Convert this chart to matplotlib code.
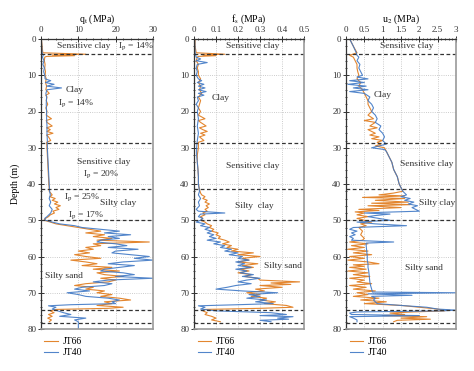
import matplotlib
matplotlib.use("Agg")
import matplotlib.pyplot as plt
from matplotlib.ticker import AutoMinorLocator

plt.rcParams['font.family'] = 'Liberation Serif'
plt.rcParams['mathtext.fontset'] = 'stix'

# ---- data: (depth m, value) ----
qt_jt66_d = [0, 1, 2, 3, 3.8, 4.2, 4.4, 4.6, 4.8, 5, 6, 7, 8, 9, 10, 11, 12, 13, 14, 15, 15.5, 16, 17, 18, 19, 20, 21, 22, 22.5, 23, 24, 24.5, 25, 25.5, 26, 26.5, 27, 28, 28.5, 30, 32, 34, 36, 38, 40, 41, 42, 43, 43.5, 44, 44.5, 45, 45.5, 46, 46.5, 47, 47.5, 48, 48.5, 49, 49.5, 50, 50.5, 51, 51.5, 52, 52.5, 53, 53.5, 54, 54.5, 55, 55.5, 56, 56.5, 57, 57.5, 58, 58.5, 59, 59.5, 60, 60.5, 61, 61.5, 62, 62.5, 63, 63.5, 64, 64.5, 65, 65.5, 66, 66.5, 67, 67.5, 68, 68.5, 69, 69.5, 70, 70.5, 71, 71.5, 72, 72.5, 73, 73.5, 74, 74.3, 74.6, 75, 75.5, 76, 76.5, 77, 77.5, 78]
qt_jt66 = [0.1, 0.2, 0.3, 0.4, 0.5, 12.0, 3, 9, 1.5, 1.0, 0.9, 1.1, 1.0, 1.2, 1.1, 1.4, 1.2, 1.5, 1.3, 2.2, 1.3, 1.6, 1.4, 1.8, 1.3, 1.6, 1.4, 2.8, 1.4, 1.6, 3.0, 1.5, 2.5, 1.6, 3.2, 1.5, 2.0, 2.6, 1.5, 1.6, 1.7, 1.8, 1.9, 2.0, 2.1, 2.2, 2.2, 3.0, 2.4, 3.8, 3.0, 4.5, 3.6, 5.2, 4.0, 4.8, 3.2, 3.6, 2.5, 2.0, 1.2, 0.8, 2.5, 4.0, 7, 10, 13, 16, 12, 17, 14, 19, 15, 29, 14, 16, 12, 14, 10, 13, 9, 12, 16, 8, 12, 15, 11, 19, 14, 21, 15, 17, 22, 16, 20, 18, 12, 9, 14, 12, 17, 15, 19, 16, 21, 24, 17, 19, 15, 22, 18, 4, 2.5, 3.5, 2, 3, 1.8, 2.8, 2.2]
qt_jt40_d = [0, 2, 3.8, 4.5, 5, 6, 7, 8, 9, 10, 11, 11.5, 12, 12.5, 13, 13.5, 14, 15, 16, 18, 20, 22, 24, 26, 28, 30, 32, 34, 36, 38, 40, 42, 43, 44, 45, 46, 47, 48, 49, 49.5, 50, 50.5, 51, 51.5, 52, 52.5, 53, 53.5, 54, 54.5, 55, 55.5, 56, 56.5, 57, 57.5, 58, 58.5, 59, 59.5, 60, 60.5, 61, 61.5, 62, 62.5, 63, 63.5, 64, 64.5, 65, 65.5, 66, 66.5, 67, 67.5, 68, 68.5, 69, 69.5, 70, 70.5, 71, 71.5, 72, 72.5, 73, 73.3, 73.6, 74, 74.5, 75, 75.5, 76, 76.5, 77, 77.5, 78, 79.8]
qt_jt40 = [0.1, 0.2, 0.3, 0.6, 0.4, 0.8, 0.5, 0.9, 0.7, 1.0, 1.1, 2.6, 1.2, 3.5, 1.5, 5.5, 1.6, 1.3, 1.5, 1.4, 1.5, 1.5, 1.6, 1.6, 1.7, 1.7, 1.8, 1.9, 2.0, 2.1, 2.2, 2.3, 2.5, 2.2, 2.6, 2.2, 3.0, 2.6, 1.6, 1.0, 1.2, 3, 5, 9, 11, 16, 21, 17, 24, 18, 21, 16, 15, 20, 23, 18, 26, 20, 19, 24, 29, 25, 30, 22, 18, 25, 21, 17, 16, 22, 25, 20, 30, 18, 14, 19, 17, 11, 9, 13, 7, 10, 12, 18, 21, 19, 20, 8, 2, 4, 3, 4.5, 6, 8, 5, 12, 9, 10, 10]

fs_jt66_d = [0, 2, 3.8, 4.2, 4.4, 4.6, 4.8, 5, 6, 7, 8, 9, 10, 11, 12, 13, 14, 15, 16, 17, 18, 19, 20, 21, 22, 22.5, 23, 24, 24.5, 25, 25.5, 26, 26.5, 27, 28, 28.5, 30, 32, 34, 36, 38, 40, 41.5, 42.5, 43, 43.5, 44, 44.5, 45, 45.5, 46, 46.5, 47, 47.5, 48, 48.5, 49, 49.5, 50, 50.5, 51, 51.5, 52, 52.5, 53, 53.5, 54, 54.5, 55, 55.5, 56, 56.5, 57, 57.5, 58, 58.5, 59, 59.5, 60, 60.5, 61, 61.5, 62, 62.5, 63, 63.5, 64, 64.5, 65, 65.5, 66, 66.5, 67, 67.3, 67.7, 68, 68.5, 69, 69.5, 70, 70.5, 71, 71.5, 72, 72.5, 73, 73.5, 74, 74.3, 74.6, 75, 75.5, 76, 76.5, 77, 77.5, 78]
fs_jt66 = [0.005, 0.005, 0.01, 0.14, 0.04, 0.10, 0.02, 0.015, 0.01, 0.02, 0.015, 0.02, 0.02, 0.03, 0.02, 0.03, 0.025, 0.035, 0.02, 0.03, 0.025, 0.02, 0.03, 0.02, 0.05, 0.02, 0.03, 0.055, 0.025, 0.04, 0.06, 0.03, 0.05, 0.025, 0.045, 0.02, 0.02, 0.015, 0.015, 0.018, 0.02, 0.02, 0.025, 0.03, 0.035, 0.05, 0.04, 0.06, 0.05, 0.07, 0.055, 0.065, 0.05, 0.06, 0.04, 0.05, 0.03, 0.04, 0.03, 0.05, 0.06, 0.08, 0.07, 0.09, 0.08, 0.11, 0.1, 0.12, 0.11, 0.14, 0.16, 0.13, 0.17, 0.15, 0.2, 0.17, 0.27, 0.2, 0.3, 0.22, 0.25, 0.2, 0.29, 0.22, 0.27, 0.21, 0.25, 0.2, 0.26, 0.23, 0.29, 0.3, 0.48, 0.35, 0.44, 0.3, 0.4, 0.28, 0.32, 0.24, 0.3, 0.26, 0.33, 0.3, 0.37, 0.32, 0.42, 0.45, 0.3, 0.05, 0.04, 0.06, 0.05, 0.08, 0.1, 0.08, 0.12]
fs_jt40_d = [0, 3.8, 5, 5.5, 6, 6.5, 7, 8, 9, 10, 11, 11.5, 12, 12.5, 13, 13.5, 14, 14.5, 15, 15.5, 16, 17, 18, 19, 20, 22, 24, 26, 28, 30, 32, 34, 36, 38, 40, 42, 43, 44, 45, 46, 47, 47.5, 48, 48.3, 49, 49.5, 50, 50.5, 51, 51.5, 52, 52.5, 53, 53.5, 54, 54.5, 55, 55.5, 56, 56.5, 57, 57.5, 58, 58.5, 59, 59.5, 60, 60.5, 61, 61.5, 62, 62.5, 63, 63.5, 64, 64.5, 65, 65.5, 66, 66.5, 67, 67.5, 68, 68.5, 69, 69.5, 70, 70.5, 71, 71.5, 72, 72.5, 73, 73.3, 73.6, 74, 74.5, 75, 75.5, 76, 76.3, 76.6, 77, 77.3, 77.6, 78]
fs_jt40 = [0.003, 0.005, 0.01, 0.03, 0.01, 0.06, 0.015, 0.01, 0.015, 0.01, 0.02, 0.035, 0.015, 0.045, 0.02, 0.05, 0.02, 0.055, 0.02, 0.045, 0.015, 0.02, 0.01, 0.02, 0.015, 0.02, 0.015, 0.02, 0.015, 0.012, 0.012, 0.015, 0.018, 0.02, 0.02, 0.025, 0.02, 0.03, 0.02, 0.025, 0.01, 0.02, 0.14, 0.03, 0.02, 0.04, 0.03, 0.01, 0.05, 0.03, 0.07, 0.05, 0.08, 0.06, 0.09, 0.07, 0.1, 0.06, 0.12, 0.09, 0.14, 0.12, 0.17, 0.14, 0.2, 0.16, 0.22, 0.2, 0.25, 0.19, 0.23, 0.2, 0.26, 0.19, 0.24, 0.21, 0.27, 0.22, 0.3, 0.24, 0.2, 0.26, 0.19, 0.15, 0.1, 0.22, 0.38, 0.25, 0.3, 0.24, 0.33, 0.28, 0.36, 0.2, 0.02, 0.05, 0.03, 0.1, 0.35, 0.42, 0.3, 0.45, 0.38, 0.43, 0.3, 0.35]

u2_jt66_d = [0, 2, 3.8, 4.5, 5, 6, 7, 8, 9, 10, 11, 12, 13, 14, 15, 16, 17, 18, 19, 20, 21, 22, 22.5, 23, 24, 24.5, 25, 26, 26.5, 27, 27.5, 28, 28.5, 29, 29.5, 30, 31, 32, 34, 36, 38, 40, 41, 42, 42.5, 43, 43.3, 43.7, 44, 44.5, 45, 45.3, 45.7, 46, 46.5, 47, 47.3, 47.7, 48, 48.5, 49, 49.5, 50, 50.5, 51, 51.5, 52, 53, 54, 55, 55.5, 56, 56.5, 57, 57.5, 58, 58.5, 59, 59.5, 60, 60.5, 61, 61.5, 62, 62.3, 62.7, 63, 63.5, 64, 64.5, 65, 65.5, 66, 66.5, 67, 67.5, 68, 68.5, 69, 69.5, 70, 70.5, 71, 71.5, 72, 72.5, 73, 73.5, 74, 74.5, 75, 75.3, 75.6, 76, 76.3, 76.6, 77, 77.3, 77.6, 78]
u2_jt66 = [0.1, 0.2, 0.3, 0.1, 0.2, 0.25, 0.3, 0.3, 0.32, 0.35, 0.3, 0.4, 0.35, 0.45, 0.5, 0.55, 0.6, 0.6, 0.65, 0.7, 0.6, 0.75, 0.5, 0.8, 0.65, 0.85, 0.6, 0.8, 0.65, 0.9, 0.7, 1.0, 0.85, 0.95, 0.8, 1.05, 1.1, 1.15, 1.25, 1.3, 1.4, 1.45, 1.5, 1.55, 1.3, 0.9, 1.6, 0.45, 1.6, 0.8, 1.7, 0.7, 1.75, 0.6, 1.5, 0.35, 0.9, 0.25, 0.5, 0.3, 0.6, 0.3, 0.5, 0.7, 0.4, 0.55, 0.35, 0.45, 0.4, 0.5, 0.45, 0.1, 0.6, 0.15, 0.5, 0.05, 0.6, 0.2, 0.7, 0.1, 0.5, 0.05, 0.6, 0.9, 0.2, 0.5, 0.1, 0.55, 0.05, 0.6, 0.2, 0.65, 0.1, 0.5, 0.3, 0.7, 0.1, 0.55, 0.2, 0.8, 0.3, 0.6, 0.2, 0.9, 0.4, 1.1, 0.5, 1.5, 2.0, 2.5, 2.7, 1.8, 1.2, 1.6, 1.0, 2.2, 1.5, 2.3, 1.4, 1.3]
u2_jt40_d = [0, 2, 3.8, 4.5, 5, 6, 7, 8, 9, 10, 10.5, 11, 11.5, 12, 12.5, 13, 13.5, 14, 14.5, 15, 16, 17, 18, 19, 20, 21, 22, 23, 24, 25, 26, 27, 28, 29, 29.5, 30, 30.5, 31, 32, 34, 36, 38, 40, 41, 42, 43, 43.5, 44, 44.5, 45, 45.5, 46, 46.5, 47, 47.5, 47.8, 48, 48.3, 48.7, 49, 49.5, 50, 50.5, 51, 51.5, 52, 52.5, 53, 53.5, 54, 54.5, 55, 55.5, 56, 56.3, 57, 58, 59, 60, 61, 62, 63, 64, 65, 66, 67, 68, 69, 69.8, 70, 70.3, 70.7, 71, 71.5, 72, 72.5, 73, 73.5, 74, 74.5, 74.8, 75, 75.3, 75.6, 76, 76.3, 76.6, 77, 77.5, 78]
u2_jt40 = [0.1, 0.2, 0.28, 0.3, 0.35, 0.3, 0.38, 0.35, 0.4, 0.45, 0.3, 0.6, 0.1, 0.5, 0.05, 0.55, 0.2, 0.6, 0.1, 0.5, 0.65, 0.6, 0.7, 0.75, 0.7, 0.8, 0.85, 0.8, 0.95, 0.9, 1.0, 1.05, 1.0, 1.1, 0.9, 0.7, 1.05, 1.1, 1.15, 1.25, 1.3, 1.4, 1.45, 1.5, 1.55, 1.65, 1.5, 1.75, 1.6, 1.85, 1.7, 1.95, 1.8, 1.9, 2.0, 1.0, 0.5, 1.2, 0.8, 0.6, 0.9, 1.2, 0.3, 0.8, 1.65, 0.2, 0.1, 0.3, 0.15, 0.25, 0.1, 0.2, 0.15, 1.3, 0.55, 0.55, 0.56, 0.57, 0.58, 0.58, 0.6, 0.6, 0.62, 0.63, 0.64, 0.65, 0.67, 0.7, 0.72, 3.0, 0.6, 1.8, 0.7, 0.8, 0.75, 0.8, 0.85, 1.5, 2.2, 2.5, 3.0, 2.6, 0.3, 0.1, 0.15, 2.0, 0.1, 0.2, 0.3, 0.3]

layer_depths = [4, 28.7, 41.3, 50, 74.8, 78.4]

panels = [
    dict(label='q$_\\mathrm{t}$ (MPa)', xmax=30, xticks=[0, 10, 20, 30],
         d66=qt_jt66_d, v66=qt_jt66, d40=qt_jt40_d, v40=qt_jt40,
         notes=[(4.3, 1.8, 'Sensitive clay'), (20.6, 2.0, 'I$_\\mathrm{p}$ = 14%'),
                (6.5, 14.2, 'Clay'), (4.6, 17.8, 'I$_\\mathrm{p}$ = 14%'),
                (9.6, 34.0, 'Sensitive clay'), (11.2, 37.4, 'I$_\\mathrm{p}$ = 20%'),
                (6.2, 43.6, 'I$_\\mathrm{p}$ = 25%'), (15.8, 45.2, 'Silty clay'),
                (7.3, 48.6, 'I$_\\mathrm{p}$ = 17%'), (1.0, 65.5, 'Silty sand')]),
    dict(label='f$_\\mathrm{s}$ (MPa)', xmax=0.5, xticks=[0, 0.1, 0.2, 0.3, 0.4, 0.5],
         d66=fs_jt66_d, v66=fs_jt66, d40=fs_jt40_d, v40=fs_jt40,
         notes=[(0.144, 1.8, 'Sensitive clay'), (0.08, 16.3, 'Clay'),
                (0.144, 35, 'Sensitive clay'), (0.186, 46, 'Silty  clay'),
                (0.318, 62.6, 'Silty sand')]),
    dict(label='u$_2$ (MPa)', xmax=3, xticks=[0, 0.5, 1, 1.5, 2, 2.5, 3],
         d66=u2_jt66_d, v66=u2_jt66, d40=u2_jt40_d, v40=u2_jt40,
         notes=[(0.92, 1.8, 'Sensitive clay'), (0.74, 15.4, 'Clay'),
                (1.47, 34.6, 'Sensitive clay'), (1.99, 45.2, 'Silty clay'),
                (1.6, 63.3, 'Silty sand')]),
]

orange = '#E3862F'
blue = '#3F78C5'

fig = plt.figure(figsize=(4.74, 3.71), dpi=100)
lefts = [41 / 474, 194 / 474, 346 / 474]
widths = [112 / 474, 110 / 474, 110 / 474]

for i, p in enumerate(panels):
    ax = fig.add_axes([lefts[i], 1 - 329 / 371, widths[i], 290 / 371])
    ax.plot(p['v66'], p['d66'], color=orange, lw=0.8, label='JT66')
    ax.plot(p['v40'], p['d40'], color=blue, lw=0.8, alpha=0.9, label='JT40')
    for d in layer_depths:
        ax.axhline(d, color='#333333', lw=0.9, ls=(0, (3, 2)))
    for x, y, t in p['notes']:
        ax.text(x, y, t, fontsize=6.8, color='#333333', va='center')

    ax.set_xlim(0, p['xmax'])
    ax.set_ylim(80, 0)
    ax.set_xticks(p['xticks'])
    ax.set_xticklabels([f'{t:g}' for t in p['xticks']])
    ax.set_yticks(range(0, 81, 10))
    ax.xaxis.set_minor_locator(AutoMinorLocator(5))
    ax.yaxis.set_minor_locator(AutoMinorLocator(5))
    ax.xaxis.tick_top()
    ax.xaxis.set_label_position('top')
    ax.set_xlabel(p['label'], fontsize=7, labelpad=3)
    ax.tick_params(which='both', direction='inout', labelsize=6.5, colors='#333333', pad=1.5)
    ax.tick_params(which='major', length=4, width=0.7)
    ax.tick_params(which='minor', length=2, width=0.6)
    ax.grid(True, which='major', color='#bbbbbb', ls=':', lw=0.6)
    for side in ['left', 'top']:
        ax.spines[side].set_color('#333333')
        ax.spines[side].set_linewidth(0.9)
    for side in ['right', 'bottom']:
        ax.spines[side].set_color('#999999')
        ax.spines[side].set_linewidth(1.2)
    if i == 0:
        ax.set_ylabel('Depth (m)', fontsize=7, labelpad=5)
    ax.legend(loc='upper left', bbox_to_anchor=(-0.03, -0.005), frameon=False,
              fontsize=7, handlelength=1.4, handletextpad=0.5, labelspacing=0.2,
              borderpad=0.2)

fig.savefig('out.png', dpi=100)
